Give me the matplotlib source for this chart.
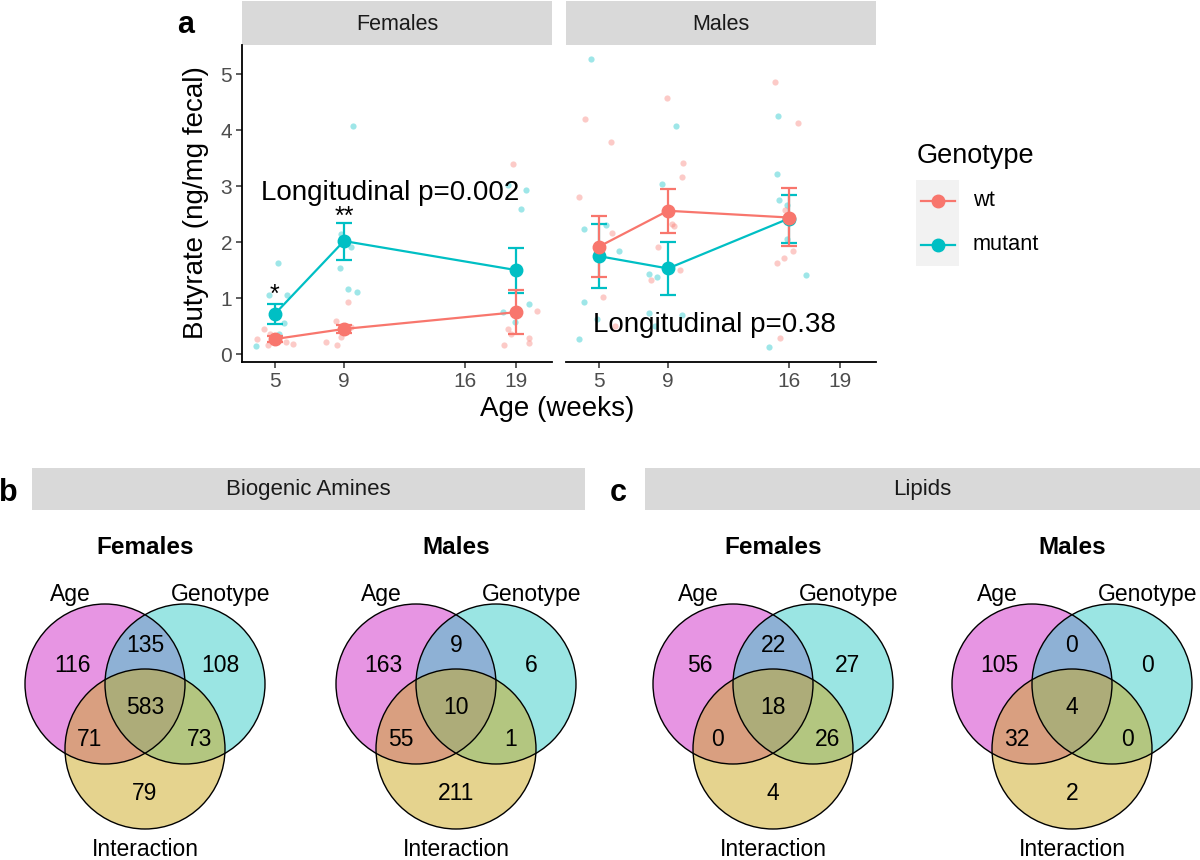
import numpy as np
import matplotlib
matplotlib.use("Agg")
import matplotlib.pyplot as plt
from matplotlib.patches import Rectangle, Circle

plt.rcParams['font.family'] = ['Liberation Sans', 'DejaVu Sans']

# ---- panel a: butyrate ----
weeks_f = [5, 9, 19]
weeks_m = [5, 9, 16]
xticks = [5, 9, 16, 19]

fem_wt_mean = [0.27, 0.45, 0.75]
fem_wt_lo = [0.22, 0.38, 0.36]
fem_wt_hi = [0.32, 0.52, 1.14]
fem_mut_mean = [0.72, 2.02, 1.50]
fem_mut_lo = [0.54, 1.69, 1.10]
fem_mut_hi = [0.90, 2.35, 1.90]

male_wt_mean = [1.92, 2.56, 2.44]
male_wt_lo = [1.38, 2.17, 1.94]
male_wt_hi = [2.47, 2.94, 2.97]
male_mut_mean = [1.75, 1.53, 2.42]
male_mut_lo = [1.18, 1.06, 1.99]
male_mut_hi = [2.33, 2.00, 2.85]

# jittered raw samples (age incl. jitter, butyrate)
fem_mut_x = [9.5, 5.2, 4.67, 5.71, 5.52, 3.9, 5.25, 8.77, 9.25, 9.77, 9.4, 8.8,
             18.5, 19.55, 19.24, 19.74, 18.2, 18.9]
fem_mut_y = [4.08, 1.63, 1.05, 1.05, 0.55, 0.15, 0.36, 1.54, 1.17, 1.11, 1.92, 2.15,
             3.02, 2.93, 2.59, 0.90, 0.75, 0.57]
fem_wt_x = [18.8, 9.25, 20.2, 18.5, 18.7, 18.3, 19.7, 19.7, 4.38, 3.94, 4.57, 6.06,
            5.64, 4.7, 8.54, 7.96, 8.6, 8.8, 9.4]
fem_wt_y = [3.39, 0.94, 0.77, 0.45, 0.36, 0.16, 0.28, 0.20, 0.45, 0.27, 0.16, 0.18,
            0.22, 0.36, 0.60, 0.21, 0.16, 0.31, 0.49]
male_mut_x = [4.54, 9.46, 15.36, 15.3, 15.45, 15.88, 15.88, 16.98, 14.87, 8.63, 7.9,
              8.38, 7.92, 9.8, 8.25, 4.13, 5.4, 6.16, 4.15, 4.87, 3.84]
male_mut_y = [5.27, 4.07, 4.25, 3.21, 2.75, 2.66, 2.05, 1.42, 0.13, 3.03, 1.44,
              1.38, 0.73, 0.70, 0.51, 2.23, 2.30, 1.84, 0.93, 0.63, 0.27]
male_wt_x = [4.19, 5.7, 3.84, 5.73, 5.25, 5.93, 8.92, 9.89, 9.8, 9.21, 9.37, 8.44,
             8.0, 9.7, 15.5, 15.2, 16.55, 16.26, 15.74, 15.3, 15.8]
male_wt_y = [4.19, 3.78, 2.81, 2.17, 1.02, 0.51, 4.58, 3.42, 3.16, 2.33, 2.29, 1.92,
             1.32, 1.51, 0.29, 4.86, 4.13, 1.85, 1.71, 1.62, 2.57]

# ---- panels b, c: venn counts ----
# order: Age, Genotype, Interaction, Age&Geno, Age&Int, Geno&Int, all three
bio_fem = [116, 108, 79, 135, 71, 73, 583]
bio_male = [163, 6, 211, 9, 55, 1, 10]
lip_fem = [56, 27, 4, 22, 0, 26, 18]
lip_male = [105, 0, 2, 0, 32, 0, 4]

RED = '#F8766D'
CYAN = '#00BFC4'
W, H = 1200, 860


def px(x0, y0, x1, y1):
    return [x0 / W, 1 - y1 / H, (x1 - x0) / W, (y1 - y0) / H]


fig = plt.figure(figsize=(12, 8.6), dpi=100)
ov = fig.add_axes([0, 0, 1, 1])
ov.set_xlim(0, W)
ov.set_ylim(H, 0)
ov.axis('off')

axF = fig.add_axes(px(242, 45, 552, 362))
axM = fig.add_axes(px(566, 45, 876, 362))


def draw_panel(ax, weeks, raw, summ, left):
    for (xs, ys, c) in raw:
        ax.scatter(xs, ys, s=20, color=c, alpha=0.38, lw=0, zorder=1)
    for (m, lo, hi, c) in summ:
        m = np.array(m)
        yerr = [m - np.array(lo), np.array(hi) - m]
        ax.errorbar(weeks, m, yerr=yerr, color=c, lw=1.6, elinewidth=1.6,
                    capsize=6, capthick=1.6, marker='o', ms=9, zorder=3)
    ax.set_xlim(3.09, 21.06)
    ax.set_ylim(-0.14, 5.52)
    ax.set_xticks(xticks)
    ax.set_yticks(range(6))
    for s in ['top', 'right']:
        ax.spines[s].set_visible(False)
    ax.spines['bottom'].set_linewidth(1.3)
    ax.spines['left'].set_linewidth(1.3)
    ax.tick_params(colors='#333333', labelcolor='#4D4D4D', labelsize=15,
                   length=4, width=1.1, pad=3)
    if not left:
        ax.spines['left'].set_visible(False)
        ax.tick_params(axis='y', left=False, labelleft=False)
    ax.patch.set_alpha(0)


draw_panel(axF, weeks_f,
           [(fem_mut_x, fem_mut_y, CYAN), (fem_wt_x, fem_wt_y, RED)],
           [(fem_mut_mean, fem_mut_lo, fem_mut_hi, CYAN),
            (fem_wt_mean, fem_wt_lo, fem_wt_hi, RED)], True)
draw_panel(axM, weeks_m,
           [(male_mut_x, male_mut_y, CYAN), (male_wt_x, male_wt_y, RED)],
           [(male_mut_mean, male_mut_lo, male_mut_hi, CYAN),
            (male_wt_mean, male_wt_lo, male_wt_hi, RED)], False)

axF.text(11.65, 2.87, 'Longitudinal p=0.002', fontsize=20, ha='center', va='center')
axF.text(5, 1.05, '*', fontsize=18, ha='center', va='center')
axF.text(9, 2.45, '**', fontsize=18, ha='center', va='center')
axM.text(11.72, 0.52, 'Longitudinal p=0.38', fontsize=20, ha='center', va='center')

# strips
for (x0, x1, lab) in [(242, 552, 'Females'), (566, 876, 'Males')]:
    ov.add_patch(Rectangle((x0, 1), x1 - x0, 44, color='#D9D9D9', lw=0))
    ov.text((x0 + x1) / 2, 24, lab, fontsize=15.5, color='#1A1A1A',
            ha='center', va='center')
ov.text(196, 203, 'Butyrate (ng/mg fecal)', fontsize=20, rotation=90,
        ha='center', va='center')
ov.text(557, 409, 'Age (weeks)', fontsize=20, ha='center', va='center')
ov.text(186, 25, 'a', fontsize=22, fontweight='bold', ha='center', va='center')

# legend
ov.text(917, 156, 'Genotype', fontsize=19.5, ha='left', va='center')
ov.add_patch(Rectangle((916, 180), 43, 86, color='#F2F2F2', lw=0))
for (yy, c, lab) in [(201, RED, 'wt'), (245, CYAN, 'mutant')]:
    ov.plot([921, 955], [yy, yy], color=c, lw=1.6)
    ov.plot([938], [yy], 'o', color=c, ms=9)
    ov.text(973, yy, lab, fontsize=15.7, ha='left', va='center')

# panels b / c strips
ov.add_patch(Rectangle((32, 468), 553, 42, color='#D9D9D9', lw=0))
ov.text(308, 489, 'Biogenic Amines', fontsize=16, color='#1A1A1A', ha='center', va='center')
ov.add_patch(Rectangle((645, 468), 560, 42, color='#D9D9D9', lw=0))
ov.text(922, 489, 'Lipids', fontsize=16, color='#1A1A1A', ha='center', va='center')
ov.text(8, 493, 'b', fontsize=22, fontweight='bold', ha='center', va='center')
ov.text(618, 493, 'c', fontsize=22, fontweight='bold', ha='center', va='center')


def draw_venn(cx, title, counts):
    r = 80
    cy = 684
    dy = 65
    for (x, y, c) in [(cx - 40, cy, '#D12DC9'), (cx + 40, cy, '#37CDC9'),
                      (cx, cy + dy, '#CDA91F')]:
        ov.add_patch(Circle((x, y), r, facecolor=c, alpha=0.5, lw=0))
    for (x, y) in [(cx - 40, cy), (cx + 40, cy), (cx, cy + dy)]:
        ov.add_patch(Circle((x, y), r, facecolor='none', edgecolor='black', lw=1.0))
    pos = [(-73, 665), (75, 665), (0, 793), (0, 645), (-55, 739), (55, 739), (0, 708)]
    for (dx, y), n in zip(pos, counts):
        ov.text(cx + dx, y, str(n), fontsize=16.5, ha='center', va='center')
    ov.text(cx, 548, title, fontsize=17.5, fontweight='bold', ha='center', va='center')
    ov.text(cx - 75, 594, 'Age', fontsize=16.5, ha='center', va='center')
    ov.text(cx + 76, 594, 'Genotype', fontsize=16.5, ha='center', va='center')
    ov.text(cx, 850, 'Interaction', fontsize=16.5, ha='center', va='center')


draw_venn(145, 'Females', bio_fem)
draw_venn(456, 'Males', bio_male)
draw_venn(773, 'Females', lip_fem)
draw_venn(1072, 'Males', lip_male)

fig.savefig('out.png', dpi=100)
